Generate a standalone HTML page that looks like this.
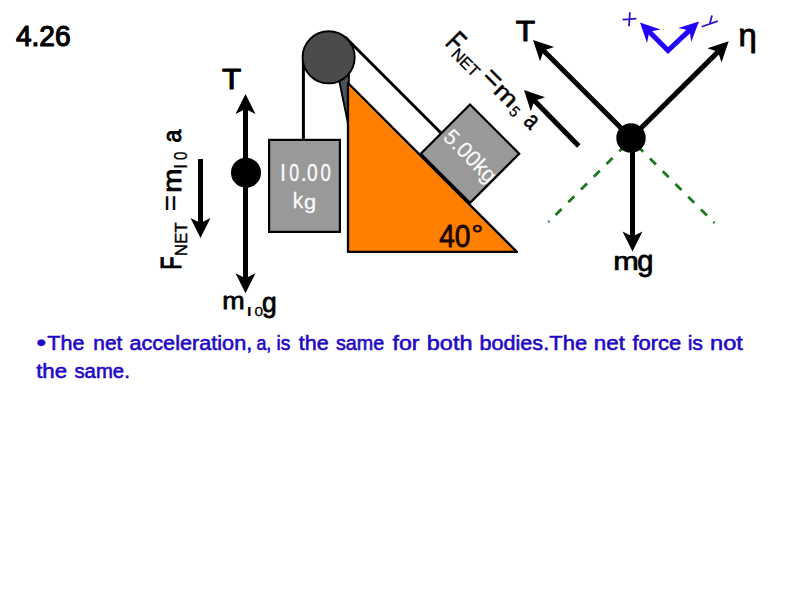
<!DOCTYPE html>
<html><head><meta charset="utf-8"><style>
html,body{margin:0;padding:0;background:#fff;width:800px;height:600px;overflow:hidden}
svg{display:block}
</style></head><body><svg width="800" height="600" viewBox="0 0 800 600" style="font-kerning:none"><polygon points="337,70 349,70 348.5,126" fill="#4c505c" stroke="#000" stroke-width="1.8" stroke-linejoin="round"/><line x1="303.4" y1="60" x2="303.4" y2="140" stroke="#000" stroke-width="3"/><line x1="345" y1="37" x2="441.25" y2="133.25" stroke="#000" stroke-width="3"/><polygon points="348,83 348,251.9 516.9,251.9" fill="#ff8000" stroke="#000" stroke-width="2.3" stroke-linejoin="round"/><circle cx="328.65" cy="57.3" r="26.05" fill="#4b4b4b" stroke="#000" stroke-width="1.9"/><rect x="269.1" y="139.9" width="70.8" height="92" fill="#999999" stroke="#000" stroke-width="2.2"/><text transform="translate(280.12,180.90) scale(0.8996,1)" x="0" y="0" font-family="Liberation Sans, sans-serif" font-size="23.838" fill="#fafafa" stroke="#fafafa" stroke-width="0.211" stroke-linejoin="round">I</text><text transform="translate(289.36,180.62) scale(0.7539,1)" x="0" y="0" font-family="Liberation Sans, sans-serif" font-size="23.587" fill="#fafafa" stroke="#fafafa" stroke-width="0.346" stroke-linejoin="round">0</text><text transform="translate(300.59,180.90) scale(0.9883,1)" x="0" y="0" font-family="Liberation Sans, sans-serif" font-size="23.379" fill="#fafafa" stroke="#fafafa" stroke-width="0.201" stroke-linejoin="round">.</text><text transform="translate(306.90,180.62) scale(0.8159,1)" x="0" y="0" font-family="Liberation Sans, sans-serif" font-size="23.587" fill="#fafafa" stroke="#fafafa" stroke-width="0.332" stroke-linejoin="round">0</text><text transform="translate(320.42,180.62) scale(0.7893,1)" x="0" y="0" font-family="Liberation Sans, sans-serif" font-size="23.587" fill="#fafafa" stroke="#fafafa" stroke-width="0.338" stroke-linejoin="round">0</text><text transform="translate(292.85,208.45) scale(0.9756,1)" x="0" y="0" font-family="Liberation Sans, sans-serif" font-size="21.253" fill="#fafafa" stroke="#fafafa" stroke-width="0.304" stroke-linejoin="round">k</text><text transform="translate(304.03,209.03) scale(1.1261,1)" x="0" y="0" font-family="Liberation Sans, sans-serif" font-size="19.351" fill="#fafafa" stroke="#fafafa" stroke-width="0.283" stroke-linejoin="round">g</text><g transform="translate(470,153.7) rotate(45)"><rect x="-34.8" y="-34.8" width="69.6" height="69.6" fill="#999999" stroke="#000" stroke-width="2.2"/></g><g transform="translate(443.75,139.25) rotate(45)"><text transform="translate(-1.79,0.51) scale(0.9732,1)" x="0" y="0" font-family="Liberation Sans, sans-serif" font-size="22.286" fill="#fafafa" stroke="#fafafa" stroke-width="0.152" stroke-linejoin="round">5.00kg</text></g><text transform="translate(439.15,246.89) scale(0.8908,1)" x="0" y="0" font-family="Liberation Sans, sans-serif" font-size="31.638" fill="#1a0500" stroke="#1a0500" stroke-width="0.848" stroke-linejoin="round">40</text><text transform="translate(471.24,243.97) scale(1.0962,1)" x="0" y="0" font-family="Liberation Sans, sans-serif" font-size="27.666" fill="#1a0500" stroke="#1a0500" stroke-width="0.478" stroke-linejoin="round">°</text><line x1="245.50" y1="180.00" x2="245.50" y2="108.00" stroke="#000" stroke-width="5"/><polygon points="245.50,94.00 255.50,114.00 245.50,109.00 235.50,114.00" fill="#000"/><line x1="245.50" y1="165.00" x2="245.50" y2="279.30" stroke="#000" stroke-width="5"/><polygon points="245.50,293.30 235.50,273.30 245.50,278.30 255.50,273.30" fill="#000"/><circle cx="246" cy="172.7" r="15" fill="#000"/><text transform="translate(221.94,89.35) scale(1.0722,1)" x="0" y="0" font-family="Liberation Sans, sans-serif" font-size="29.361" fill="#000" stroke="#000" stroke-width="1.062" stroke-linejoin="round">T</text><text transform="translate(222.36,309.10) scale(1.1309,1)" x="0" y="0" font-family="Liberation Sans, sans-serif" font-size="23.788" fill="#000" stroke="#000" stroke-width="0.752" stroke-linejoin="round">m</text><text transform="translate(246.17,316.35) scale(1.5864,1)" x="0" y="0" font-family="Liberation Sans, sans-serif" font-size="13.518" fill="#000" stroke="#000" stroke-width="0.238" stroke-linejoin="round">I</text><text transform="translate(254.55,316.22) scale(1.1785,1)" x="0" y="0" font-family="Liberation Sans, sans-serif" font-size="13.135" fill="#000" stroke="#000" stroke-width="0.276" stroke-linejoin="round">0</text><text transform="translate(261.99,311.52) scale(0.9332,1)" x="0" y="0" font-family="Liberation Sans, sans-serif" font-size="28.355" fill="#000" stroke="#000" stroke-width="0.828" stroke-linejoin="round">g</text><line x1="200.50" y1="159.00" x2="200.50" y2="224.00" stroke="#000" stroke-width="5"/><polygon points="200.50,238.00 190.50,218.00 200.50,223.00 210.50,218.00" fill="#000"/><g transform="translate(181,269) rotate(-90)"><text transform="translate(-0.83,-0.45) scale(0.7314,1)" x="0" y="0" font-family="Liberation Sans, sans-serif" font-size="29.652" fill="#000" stroke="#000" stroke-width="1.052" stroke-linejoin="round">F</text><text transform="translate(12.84,5.58) scale(1.0724,1)" x="0" y="0" font-family="Liberation Sans, sans-serif" font-size="15.771" fill="#000" stroke="#000" stroke-width="0.435" stroke-linejoin="round">NET</text><text transform="translate(57.80,-1.35) scale(0.9661,1)" x="0" y="0" font-family="Liberation Sans, sans-serif" font-size="28.548" fill="#000" stroke="#000" stroke-width="0.305" stroke-linejoin="round">=</text><text transform="translate(76.22,0.05) scale(1.0955,1)" x="0" y="0" font-family="Liberation Sans, sans-serif" font-size="26.576" fill="#000" stroke="#000" stroke-width="0.860" stroke-linejoin="round">m</text><text transform="translate(100.02,5.90) scale(1.0623,1)" x="0" y="0" font-family="Liberation Sans, sans-serif" font-size="18.169" fill="#000" stroke="#000" stroke-width="0.194" stroke-linejoin="round">I</text><text transform="translate(109.06,5.68) scale(0.8600,1)" x="0" y="0" font-family="Liberation Sans, sans-serif" font-size="17.514" fill="#000" stroke="#000" stroke-width="0.323" stroke-linejoin="round">0</text><text transform="translate(126.47,-0.20) scale(0.8801,1)" x="0" y="0" font-family="Liberation Sans, sans-serif" font-size="26.102" fill="#000" stroke="#000" stroke-width="0.959" stroke-linejoin="round">a</text></g><line x1="549" y1="221.5" x2="631" y2="139.5" stroke="#1c7a1c" stroke-width="2.8" stroke-dasharray="8.5,9.53" stroke-dashoffset="8.78"/><line x1="548.3" y1="222.2" x2="549.4" y2="221.1" stroke="#1c7a1c" stroke-width="2.5"/><line x1="714.5" y1="223" x2="713.4" y2="221.9" stroke="#1c7a1c" stroke-width="2.5"/><line x1="713.5" y1="222" x2="631.5" y2="140" stroke="#1c7a1c" stroke-width="2.8" stroke-dasharray="8.5,9.53" stroke-dashoffset="8.78"/><line x1="631.00" y1="138.00" x2="542.90" y2="49.90" stroke="#000" stroke-width="5"/><polygon points="533.00,40.00 554.21,47.07 543.61,50.61 540.07,61.21" fill="#000"/><line x1="631.00" y1="138.00" x2="718.75" y2="51.15" stroke="#000" stroke-width="5"/><polygon points="728.70,41.30 721.52,62.48 718.04,51.85 707.45,48.26" fill="#000"/><line x1="632.50" y1="138.00" x2="632.50" y2="237.50" stroke="#000" stroke-width="5"/><polygon points="632.50,251.50 622.50,231.50 632.50,236.50 642.50,231.50" fill="#000"/><circle cx="631" cy="138" r="14.7" fill="#000"/><line x1="578.70" y1="146.00" x2="533.78" y2="100.02" stroke="#000" stroke-width="5"/><polygon points="524.00,90.00 545.13,97.32 534.48,100.73 530.82,111.29" fill="#000"/><text transform="translate(515.84,41.15) scale(1.0836,1)" x="0" y="0" font-family="Liberation Sans, sans-serif" font-size="29.216" fill="#000" stroke="#000" stroke-width="1.057" stroke-linejoin="round">T</text><text transform="translate(613.36,270.10) scale(1.1627,1)" x="0" y="0" font-family="Liberation Sans, sans-serif" font-size="26.390" fill="#000" stroke="#000" stroke-width="0.742" stroke-linejoin="round">m</text><text transform="translate(637.18,271.26) scale(1.0177,1)" x="0" y="0" font-family="Liberation Sans, sans-serif" font-size="28.624" fill="#000" stroke="#000" stroke-width="0.793" stroke-linejoin="round">g</text><text transform="translate(738.45,45.83) scale(1.0570,1)" x="0" y="0" font-family="Liberation Sans, sans-serif" font-size="31.002" fill="#000" stroke="#000" stroke-width="0.875" stroke-linejoin="round">η</text><g transform="translate(445.5,45.5) rotate(45)"><text transform="translate(-2.01,-0.25) scale(0.7210,1)" x="0" y="0" font-family="Liberation Sans, sans-serif" font-size="29.797" fill="#000" stroke="#000" stroke-width="0.589" stroke-linejoin="round">F</text><text transform="translate(10.12,3.35) scale(0.9984,1)" x="0" y="0" font-family="Liberation Sans, sans-serif" font-size="16.279" fill="#000" stroke="#000" stroke-width="0.300" stroke-linejoin="round">NET</text><text transform="translate(47.99,-1.30) scale(1.0124,1)" x="0" y="0" font-family="Liberation Sans, sans-serif" font-size="29.479" fill="#000" stroke="#000" stroke-width="0.298" stroke-linejoin="round">=</text><text transform="translate(65.85,-0.25) scale(1.2287,1)" x="0" y="0" font-family="Liberation Sans, sans-serif" font-size="23.230" fill="#000" stroke="#000" stroke-width="0.451" stroke-linejoin="round">m</text><text transform="translate(91.58,3.10) scale(0.9215,1)" x="0" y="0" font-family="Liberation Sans, sans-serif" font-size="15.335" fill="#000" stroke="#000" stroke-width="0.313" stroke-linejoin="round">5</text><text transform="translate(108.90,0.10) scale(0.7903,1)" x="0" y="0" font-family="Liberation Sans, sans-serif" font-size="25.372" fill="#000" stroke="#000" stroke-width="0.562" stroke-linejoin="round">a</text></g><path d="M648.49,30.99 L668,50.5 L690.24,29.70" fill="none" stroke="#2200ff" stroke-width="5" stroke-linejoin="miter"/><line x1="648.49" y1="30.99" x2="648.49" y2="30.99" stroke="#2200ff" stroke-width="5"/><polygon points="640.00,22.50 660.51,29.57 649.19,31.69 647.07,43.01" fill="#2200ff"/><line x1="690.24" y1="29.70" x2="690.24" y2="29.70" stroke="#2200ff" stroke-width="5"/><polygon points="699.00,21.50 691.25,41.76 689.51,30.38 678.27,27.88" fill="#2200ff"/><path d="M622.6,19.7 L636.3,18.6 M629.9,12.2 L629,26.3" stroke="#2a10c8" stroke-width="1.8" fill="none"/><path d="M701.7,26.75 L717.7,21.1 M712,15.5 L709.8,23.4" stroke="#2a10c8" stroke-width="1.8" fill="none"/><text transform="translate(15.96,45.70) scale(0.9295,1)" x="0" y="0" font-family="Liberation Sans, sans-serif" font-size="30.226" fill="#000" stroke="#000" stroke-width="1.245" stroke-linejoin="round">4.26</text><text transform="translate(36.21,351.09) scale(1.1642,1)" x="0" y="0" font-family="Liberation Sans, sans-serif" font-size="24.724" fill="#2208c4" stroke="#2208c4" stroke-width="0.278" stroke-linejoin="round">•</text><text transform="translate(47.32,349.50) scale(1.0250,1)" x="0" y="0" font-family="Liberation Sans, sans-serif" font-size="21.000" fill="#2208c4" stroke="#2208c4" stroke-width="0.593" stroke-linejoin="round">The</text><text transform="translate(93.31,349.50) scale(0.9948,1)" x="0" y="0" font-family="Liberation Sans, sans-serif" font-size="21.000" fill="#2208c4" stroke="#2208c4" stroke-width="0.602" stroke-linejoin="round">net</text><text transform="translate(129.38,349.50) scale(1.0319,1)" x="0" y="0" font-family="Liberation Sans, sans-serif" font-size="21.000" fill="#2208c4" stroke="#2208c4" stroke-width="0.591" stroke-linejoin="round">acceleration,</text><text transform="translate(256.44,349.50) scale(0.8483,1)" x="0" y="0" font-family="Liberation Sans, sans-serif" font-size="21.000" fill="#2208c4" stroke="#2208c4" stroke-width="0.651" stroke-linejoin="round">a,</text><text transform="translate(276.51,349.50) scale(0.9152,1)" x="0" y="0" font-family="Liberation Sans, sans-serif" font-size="21.000" fill="#2208c4" stroke="#2208c4" stroke-width="0.627" stroke-linejoin="round">is</text><text transform="translate(298.72,349.50) scale(1.0253,1)" x="0" y="0" font-family="Liberation Sans, sans-serif" font-size="21.000" fill="#2208c4" stroke="#2208c4" stroke-width="0.593" stroke-linejoin="round">the</text><text transform="translate(336.00,349.50) scale(0.9411,1)" x="0" y="0" font-family="Liberation Sans, sans-serif" font-size="21.000" fill="#2208c4" stroke="#2208c4" stroke-width="0.618" stroke-linejoin="round">same</text><text transform="translate(392.47,349.50) scale(1.1022,1)" x="0" y="0" font-family="Liberation Sans, sans-serif" font-size="21.000" fill="#2208c4" stroke="#2208c4" stroke-width="0.572" stroke-linejoin="round">for</text><text transform="translate(426.79,349.50) scale(1.1178,1)" x="0" y="0" font-family="Liberation Sans, sans-serif" font-size="21.000" fill="#2208c4" stroke="#2208c4" stroke-width="0.568" stroke-linejoin="round">both</text><text transform="translate(479.51,349.50) scale(1.0288,1)" x="0" y="0" font-family="Liberation Sans, sans-serif" font-size="21.000" fill="#2208c4" stroke="#2208c4" stroke-width="0.592" stroke-linejoin="round">bodies.</text><text transform="translate(549.31,349.50) scale(1.0465,1)" x="0" y="0" font-family="Liberation Sans, sans-serif" font-size="21.000" fill="#2208c4" stroke="#2208c4" stroke-width="0.587" stroke-linejoin="round">The</text><text transform="translate(593.82,349.50) scale(1.0635,1)" x="0" y="0" font-family="Liberation Sans, sans-serif" font-size="21.000" fill="#2208c4" stroke="#2208c4" stroke-width="0.582" stroke-linejoin="round">net</text><text transform="translate(632.49,349.50) scale(1.0450,1)" x="0" y="0" font-family="Liberation Sans, sans-serif" font-size="21.000" fill="#2208c4" stroke="#2208c4" stroke-width="0.587" stroke-linejoin="round">force</text><text transform="translate(687.63,349.50) scale(1.0114,1)" x="0" y="0" font-family="Liberation Sans, sans-serif" font-size="21.000" fill="#2208c4" stroke="#2208c4" stroke-width="0.597" stroke-linejoin="round">is</text><text transform="translate(709.98,349.50) scale(1.1268,1)" x="0" y="0" font-family="Liberation Sans, sans-serif" font-size="21.000" fill="#2208c4" stroke="#2208c4" stroke-width="0.565" stroke-linejoin="round">not</text><text transform="translate(36.16,377.80) scale(1.0611,1)" x="0" y="0" font-family="Liberation Sans, sans-serif" font-size="21.000" fill="#2208c4" stroke="#2208c4" stroke-width="0.582" stroke-linejoin="round">the</text><text transform="translate(74.43,377.80) scale(0.9692,1)" x="0" y="0" font-family="Liberation Sans, sans-serif" font-size="21.000" fill="#2208c4" stroke="#2208c4" stroke-width="0.609" stroke-linejoin="round">same.</text></svg></body></html>
